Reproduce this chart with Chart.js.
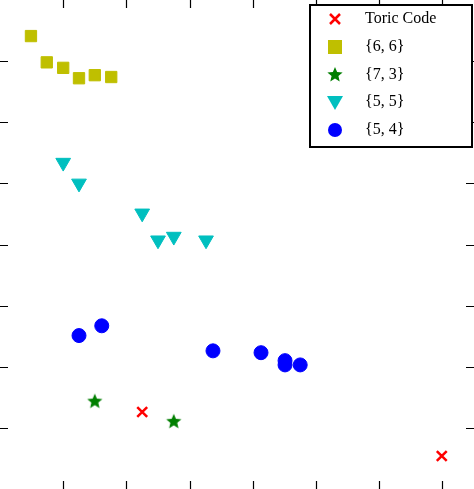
<!DOCTYPE html>
<html><head><meta charset="utf-8">
<script src="https://cdn.jsdelivr.net/npm/chart.js@4"></script>
<style>html,body{margin:0;padding:0;background:#fff}#w{width:474px;height:489px}</style>
</head><body><div id="w"><canvas id="c"></canvas></div>
<script>
const toricX=[2.25,6.99], toricY=[1.26,0.54];
const s66X=[0.49,0.74,1.0,1.25,1.5,1.76], s66Y=[7.41,6.98,6.89,6.72,6.77,6.74];
const s73X=[1.5,2.75], s73Y=[1.43,1.10];
const s55X=[1.0,1.25,2.25,2.5,2.75,3.26], s55Y=[5.34,5.0,4.51,4.07,4.13,4.07];
const s54X=[1.25,1.61,3.37,4.13,4.51,4.51,4.75], s54Y=[2.51,2.67,2.26,2.23,2.10,2.03,2.03];
const xTicks=[1,2,3,4,5,6,7], yTicks=[1,2,3,4,5,6,7];
const labels=['Toric Code','{6,6}','{7,3}','{5,5}','{5,4}'];
const pts=(xs,ys)=>xs.map((x,i)=>({x,y:ys[i]}));
function starCanvas(r,color){const c=document.createElement('canvas');c.width=c.height=2*r+2;const g=c.getContext('2d');g.fillStyle=color;g.beginPath();for(let i=0;i<10;i++){const a=-Math.PI/2+i*Math.PI/5;const rr=i%2?r*0.45:r;g.lineTo(r+1+rr*Math.cos(a),r+1+rr*Math.sin(a));}g.closePath();g.fill();return c;}
const star=starCanvas(8,'#007f00');
const sets=[
 {label:labels[0],data:pts(toricX,toricY),pointStyle:'crossRot',pointRadius:7,borderColor:'#ff0000',backgroundColor:'#ff0000',pointBorderWidth:2.5},
 {label:labels[1],data:pts(s66X,s66Y),pointStyle:'rect',pointRadius:8,borderColor:'#bfbf00',backgroundColor:'#bfbf00',pointBorderWidth:1},
 {label:labels[2],data:pts(s73X,s73Y),pointStyle:star,borderColor:'#007f00',backgroundColor:'#007f00'},
 {label:labels[3],data:pts(s55X,s55Y),pointStyle:'triangle',rotation:180,pointRadius:8.5,borderColor:'#00bfbf',backgroundColor:'#00bfbf',pointBorderWidth:1},
 {label:labels[4],data:pts(s54X,s54Y),pointStyle:'circle',pointRadius:7,borderColor:'#0000ff',backgroundColor:'#0000ff',pointBorderWidth:1}
];
const deco={id:'deco',afterDraw(ch){const g=ch.ctx,xs=ch.scales.x,ys=ch.scales.y,a=ch.chartArea;g.save();g.strokeStyle='#000';g.lineWidth=1.2;
 xTicks.forEach(t=>{const p=Math.round(xs.getPixelForValue(t))+0.5;g.beginPath();g.moveTo(p,a.bottom);g.lineTo(p,a.bottom-8);g.moveTo(p,a.top);g.lineTo(p,a.top+8);g.stroke();});
 yTicks.forEach(t=>{const p=Math.round(ys.getPixelForValue(t))+0.5;g.beginPath();g.moveTo(a.left,p);g.lineTo(a.left+8,p);g.moveTo(a.right,p);g.lineTo(a.right-8,p);g.stroke();});
 // legend
 g.fillStyle='#fff';g.fillRect(310,5,162,142);g.lineWidth=2;g.strokeRect(310,5,162,142);
 g.font='16px "Liberation Serif", "DejaVu Serif", serif';g.textBaseline='middle';
 const ys2=[19,47,75,102,130];
 sets.forEach((d,i)=>{const y=ys2[i],x=335;g.fillStyle=d.backgroundColor;g.strokeStyle=d.borderColor;
  if(i===0){g.lineWidth=2.5;g.beginPath();g.moveTo(x-5,y-5);g.lineTo(x+5,y+5);g.moveTo(x+5,y-5);g.lineTo(x-5,y+5);g.stroke();}
  else if(i===1){g.fillRect(x-7,y-7,14,14);}
  else if(i===2){g.drawImage(star,x-9,y-9);}
  else if(i===3){g.beginPath();g.moveTo(x-8,y-6);g.lineTo(x+8,y-6);g.lineTo(x,y+8);g.closePath();g.fill();}
  else {g.beginPath();g.arc(x,y,7,0,Math.PI*2);g.fill();}
  g.fillStyle='#000';g.fillText(d.label.replace(/,/,', '),365,y);});
 g.restore();}};
new Chart(document.getElementById('c'),{type:'scatter',data:{datasets:sets},plugins:[deco],
 options:{responsive:true,maintainAspectRatio:false,animation:false,layout:{autoPadding:false,padding:0},
  plugins:{legend:{display:false},tooltip:{enabled:false}},
  scales:{x:{display:false,min:0,max:7.5},y:{display:false,min:0,max:8.0}}}});
</script></body></html>
